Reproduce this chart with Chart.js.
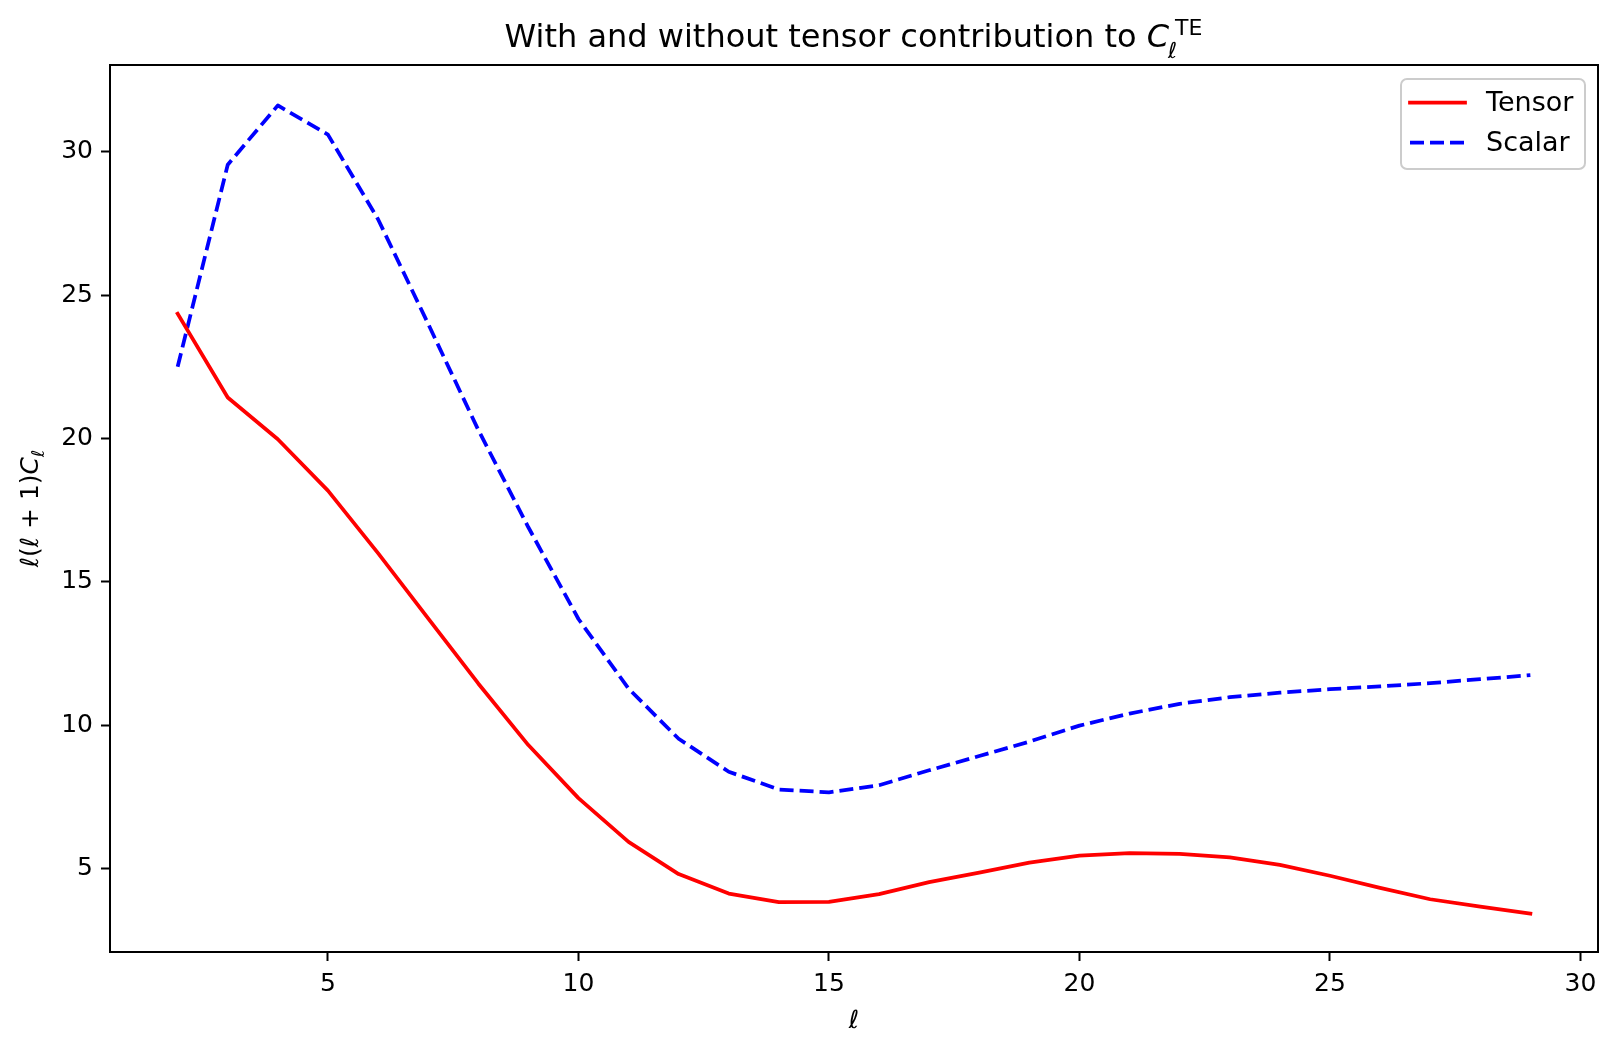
<!DOCTYPE html>
<html>
<head>
<meta charset="utf-8">
<script src="https://cdn.jsdelivr.net/npm/chart.js@4.4.1/dist/chart.umd.min.js"></script>
<style>
  html, body { margin: 0; padding: 0; background: #ffffff; }
  #wrap { width: 1617px; height: 1055px; }
</style>
</head>
<body>
<div id="wrap"><canvas id="te-chart" width="1617" height="1055"></canvas></div>
<script>
  // multipole index and the two spectra
  const ells = [2, 3, 4, 5, 6, 7, 8, 9, 10, 11, 12, 13, 14, 15, 16, 17, 18, 19, 20, 21, 22, 23, 24, 25, 26, 27, 28, 29];
  const tensorValues = [24.35, 21.43, 19.97, 18.18, 16.0, 13.72, 11.45, 9.3, 7.45, 5.92, 4.8, 4.12, 3.82, 3.83, 4.1, 4.52, 4.85, 5.2, 5.44, 5.53, 5.5, 5.38, 5.12, 4.74, 4.32, 3.92, 3.66, 3.42];
  const scalarValues = [22.5, 29.55, 31.62, 30.6, 27.65, 24.0, 20.3, 16.9, 13.7, 11.27, 9.52, 8.37, 7.75, 7.65, 7.9, 8.42, 8.92, 9.42, 9.98, 10.4, 10.74, 10.97, 11.13, 11.25, 11.35, 11.46, 11.6, 11.74];
  const seriesLabels = ["Tensor", "Scalar"];
  const xTickValues = [5, 10, 15, 20, 25, 30];
  const yTickValues = [5, 10, 15, 20, 25, 30];

  const FONT = "'DejaVu Sans', sans-serif";
  const TICK_SIZE = 25;
  const LEGEND_SIZE = 27;
  const TITLE_SIZE = 32;

  const toPoints = (values) => values.map((v, i) => ({ x: ells[i], y: v }));

  // full box round the axes, like matplotlib spines
  const framePlugin = {
    id: "frame",
    afterDatasetsDraw(chart) {
      const { ctx, chartArea: a } = chart;
      ctx.save();
      ctx.strokeStyle = "#000";
      ctx.lineWidth = 2;
      ctx.strokeRect(a.left, a.top, a.right - a.left, a.bottom - a.top);
      ctx.restore();
    },
  };

  // title and axis labels with sub/superscripts
  const labelsPlugin = {
    id: "mathLabels",
    afterDraw(chart) {
      const { ctx, chartArea: a } = chart;
      const cx = (a.left + a.right) / 2;
      const cy = (a.top + a.bottom) / 2;
      const small = Math.round(TITLE_SIZE * 0.7);
      ctx.save();
      ctx.fillStyle = "#000";
      ctx.textBaseline = "alphabetic";
      ctx.textAlign = "left";

      // title
      const head = "With and without tensor contribution to ";
      ctx.font = `${TITLE_SIZE}px ${FONT}`;
      const wHead = ctx.measureText(head).width;
      ctx.font = `italic ${TITLE_SIZE}px ${FONT}`;
      const wC = ctx.measureText("C").width;
      ctx.font = `italic ${small}px ${FONT}`;
      const wSub = ctx.measureText("ℓ").width;
      ctx.font = `${small}px ${FONT}`;
      const wSup = ctx.measureText("TE").width;
      const supShift = 7;
      const total = wHead + wC + Math.max(wSub, wSup + supShift);
      let x = cx - total / 2;
      const base = 47;
      ctx.font = `${TITLE_SIZE}px ${FONT}`;
      ctx.fillText(head, x, base);
      x += wHead;
      ctx.font = `italic ${TITLE_SIZE}px ${FONT}`;
      ctx.fillText("C", x, base);
      x += wC - 1;
      ctx.font = `italic ${small}px ${FONT}`;
      ctx.fillText("ℓ", x, base + 11);
      ctx.font = `${small}px ${FONT}`;
      ctx.fillText("TE", x + supShift, base - 12);

      // x label
      ctx.font = `italic ${TICK_SIZE}px ${FONT}`;
      ctx.textAlign = "center";
      ctx.fillText("ℓ", cx, 1028);

      // y label, rotated
      const runs = [
        { t: "ℓ", f: `italic ${TICK_SIZE}px ${FONT}`, dy: 0 },
        { t: "(", f: `${TICK_SIZE}px ${FONT}`, dy: 0 },
        { t: "ℓ", f: `italic ${TICK_SIZE}px ${FONT}`, dy: 0 },
        { t: " + 1)", f: `${TICK_SIZE}px ${FONT}`, dy: 0 },
        { t: "C", f: `italic ${TICK_SIZE}px ${FONT}`, dy: 0 },
        { t: "ℓ", f: `italic 17.5px ${FONT}`, dy: 6 },
      ];
      let yw = 0;
      runs.forEach((r) => {
        ctx.font = r.f;
        r.w = ctx.measureText(r.t).width;
        yw += r.w;
      });
      ctx.translate(38, cy);
      ctx.rotate(-Math.PI / 2);
      ctx.textAlign = "left";
      let rx = -yw / 2;
      runs.forEach((r) => {
        ctx.font = r.f;
        ctx.fillText(r.t, rx, r.dy);
        rx += r.w;
      });
      ctx.restore();
    },
  };

  // legend box inside the axes, upper right
  const legendPlugin = {
    id: "insideLegend",
    afterDraw(chart) {
      const { ctx } = chart;
      const box = { x: 1401, y: 79, w: 184, h: 90, r: 6 };
      ctx.save();
      ctx.beginPath();
      ctx.roundRect(box.x, box.y, box.w, box.h, box.r);
      ctx.fillStyle = "rgba(255,255,255,0.8)";
      ctx.fill();
      ctx.lineWidth = 2;
      ctx.strokeStyle = "#cccccc";
      ctx.stroke();

      chart.data.datasets.forEach((ds, i) => {
        const ry = 102.5 + i * 40;
        ctx.beginPath();
        ctx.setLineDash(ds.borderDash || []);
        ctx.lineCap = ds.borderCapStyle || "butt";
        ctx.strokeStyle = ds.borderColor;
        ctx.lineWidth = ds.borderWidth;
        ctx.moveTo(1410, ry);
        ctx.lineTo(1465, ry);
        ctx.stroke();
        ctx.setLineDash([]);
        ctx.fillStyle = "#000";
        ctx.font = `${LEGEND_SIZE}px ${FONT}`;
        ctx.textBaseline = "middle";
        ctx.textAlign = "left";
        ctx.fillText(ds.label, 1486, ry + 1);
      });
      ctx.restore();
    },
  };

  const tickAxis = (min, max, tickValues, extra) => ({
    type: "linear",
    min: min,
    max: max,
    afterBuildTicks(scale) {
      scale.ticks = tickValues.map((v) => ({ value: v }));
    },
    grid: {
      display: true,
      drawOnChartArea: false,
      drawTicks: true,
      tickLength: 9,
      tickWidth: 2,
      tickColor: "#000",
    },
    border: { display: false },
    ticks: {
      color: "#000",
      padding: 8,
      font: { family: FONT, size: TICK_SIZE },
      maxRotation: 0,
      autoSkip: false,
    },
    ...extra,
  });

  new Chart(document.getElementById("te-chart").getContext("2d"), {
    type: "line",
    data: {
      datasets: [
        {
          label: seriesLabels[0],
          data: toPoints(tensorValues),
          borderColor: "#ff0000",
          borderWidth: 3.75,
          borderCapStyle: "square",
          borderJoinStyle: "round",
          pointRadius: 0,
          tension: 0,
          fill: false,
        },
        {
          label: seriesLabels[1],
          data: toPoints(scalarValues),
          borderColor: "#0000ff",
          borderWidth: 3.75,
          borderDash: [14, 6],
          borderCapStyle: "butt",
          borderJoinStyle: "round",
          pointRadius: 0,
          tension: 0,
          fill: false,
        },
      ],
    },
    options: {
      responsive: false,
      devicePixelRatio: 1,
      animation: false,
      layout: { padding: { left: 0, top: 65, right: 19, bottom: 0 } },
      scales: {
        x: tickAxis(0.65, 30.35, xTickValues, {
          afterFit(scale) {
            scale.height = 103;
          },
        }),
        y: tickAxis(2.08, 33.03, yTickValues, {
          afterFit(scale) {
            scale.width = 110;
          },
        }),
      },
      plugins: {
        legend: { display: false },
        title: { display: false },
        tooltip: { enabled: false },
      },
    },
    plugins: [framePlugin, labelsPlugin, legendPlugin],
  });
</script>
</body>
</html>
